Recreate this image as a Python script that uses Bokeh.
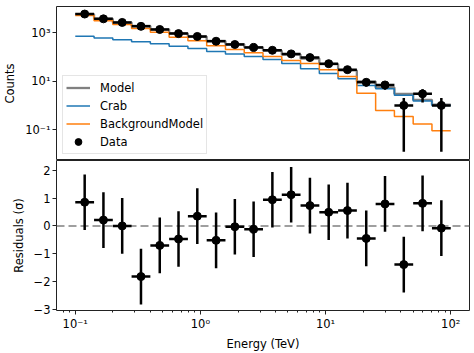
from bokeh.plotting import figure
from bokeh.models import Range1d, FixedTicker, Span, Legend, LegendItem
from bokeh.layouts import column
from bokeh.embed import file_html
from bokeh.resources import INLINE

# ---------------- data ----------------
energy_edges = [0.1, 0.1413, 0.1995, 0.2818, 0.3981, 0.5623, 0.7943, 1.122, 1.585,
                2.239, 3.162, 4.467, 6.310, 8.913, 12.59, 17.78, 25.12, 35.48,
                50.12, 70.79, 100.0]
energy_centers = [0.1189, 0.1679, 0.2371, 0.3350, 0.4732, 0.6683, 0.9441, 1.334,
                  1.884, 2.661, 3.758, 5.309, 7.499, 10.59, 14.96, 21.13, 29.85,
                  42.17, 59.57, 84.14]
counts = [6000, 3800, 2700, 1860, 1380, 930, 710, 450, 330, 250, 190, 135, 95,
          53, 30, 9, 7, 1, 3, 1]
counts_err_lo = [77, 62, 52, 43, 37, 30, 27, 21, 18, 16, 14, 11.6, 9.7, 7.3,
                 5.5, 3.0, 2.6, 0.988, 1.7, 0.988]
counts_err_hi = [77, 62, 52, 43, 37, 30, 27, 21, 18, 16, 14, 11.6, 9.7, 7.3,
                 5.5, 3.0, 2.6, 1.0, 1.7, 1.0]
model_counts = [5930, 3790, 2700, 1940, 1405, 945, 700, 462, 340, 255, 184, 126,
                87, 51, 28, 9.8, 5.5, 3.0, 1.7, 1.08]
crab_counts = [724, 617, 513, 427, 355, 282, 224, 170, 135, 105, 79, 54, 33, 21,
               12.6, 6.6, 4.9, 2.65, 1.53, 0.99]
background_counts = [5200, 3170, 2190, 1510, 1050, 660, 470, 292, 205, 150, 105,
                     72, 54, 30, 15.5, 3.2, 0.62, 0.35, 0.17, 0.09]
residuals = [0.85, 0.21, 0.0, -1.82, -0.70, -0.47, 0.35, -0.52, -0.03, -0.12,
             0.94, 1.12, 0.73, 0.49, 0.55, -0.45, 0.79, -1.39, 0.81, -0.08]
residuals_err = [1.0] * 20

y_counts_ticks = [0.1, 10, 1000]
y_counts_labels = {0.1: "10\u207b\u00b9", 10: "10\u00b9", 1000: "10\u00b3"}
x_ticks = [0.1, 1, 10, 100]
x_labels = {0.1: "10\u207b\u00b9", 1: "10\u2070", 10: "10\u00b9", 100: "10\u00b2"}
y_res_ticks = [-3, -2, -1, 0, 1, 2]
y_res_labels = {-3: "\u22123", -2: "\u22122", -1: "\u22121", 0: "0", 1: "1", 2: "2"}

FONT = "DejaVu Sans"
FS = "11.5px"
C_MODEL = "#808080"
C_CRAB = "#1f77b4"
C_BKG = "#ff7f0e"

x_range = Range1d(10 ** -1.15, 10 ** 2.15)


def style(p):
    p.outline_line_color = "#222222"
    p.outline_line_width = 1
    p.xgrid.grid_line_color = None
    p.ygrid.grid_line_color = None
    p.background_fill_color = "white"
    p.border_fill_color = "white"
    for ax in p.xaxis + p.yaxis:
        ax.axis_line_color = None
        ax.major_tick_line_color = "#222222"
        ax.minor_tick_line_color = "#222222"
        ax.major_tick_in = 0
        ax.major_tick_out = 4
        ax.minor_tick_in = 0
        ax.minor_tick_out = 2
        ax.major_label_text_font = FONT
        ax.major_label_text_font_size = FS
        ax.major_label_text_color = "black"
        ax.axis_label_text_font = FONT
        ax.axis_label_text_font_size = FS
        ax.axis_label_text_font_style = "normal"
        ax.axis_label_text_color = "black"
        ax.major_label_standoff = 2


# ---------------- top panel ----------------
top = figure(width=474, height=160, x_axis_type="log", y_axis_type="log",
             x_range=x_range, y_range=Range1d(10 ** -2.28, 10 ** 4.09),
             output_backend="svg", toolbar_location=None,
             min_border_left=55, min_border_right=5, min_border_top=6,
             min_border_bottom=0)
style(top)
top.xaxis.visible = False
top.yaxis.ticker = FixedTicker(ticks=y_counts_ticks, minor_ticks=[])
top.yaxis.major_label_overrides = y_counts_labels
top.yaxis.axis_label = "Counts"
top.yaxis.axis_label_standoff = 5

r_model = top.step(x=energy_edges, y=model_counts + [model_counts[-1]], mode="after",
                   line_color=C_MODEL, line_width=2.3)
r_crab = top.step(x=energy_edges, y=crab_counts + [crab_counts[-1]], mode="after",
                  line_color=C_CRAB, line_width=1.5)
r_bkg = top.step(x=energy_edges, y=background_counts + [background_counts[-1]],
                 mode="after", line_color=C_BKG, line_width=1.5)

c_lo = [c - e for c, e in zip(counts, counts_err_lo)]
c_hi = [c + e for c, e in zip(counts, counts_err_hi)]
r_vs = top.segment(x0=energy_centers, y0=c_lo, x1=energy_centers, y1=c_hi,
                   line_color="black", line_width=2.5)
r_hs = top.segment(x0=energy_edges[:-1], y0=counts, x1=energy_edges[1:], y1=counts,
                   line_color="black", line_width=2.5)
r_pt = top.scatter(x=energy_centers, y=counts, marker="circle", size=8,
                   fill_color="black", line_color="black")

legend = Legend(items=[
    LegendItem(label="Model", renderers=[r_model]),
    LegendItem(label="Crab", renderers=[r_crab]),
    LegendItem(label="BackgroundModel", renderers=[r_bkg]),
    LegendItem(label="Data", renderers=[r_pt]),
], location="bottom_left")
legend.margin = 6
legend.padding = 3
legend.spacing = 1
legend.glyph_width = 24
legend.glyph_height = 17
legend.label_height = 17
legend.label_standoff = 10
legend.label_text_font = FONT
legend.label_text_font_size = FS
legend.label_text_color = "black"
legend.border_line_color = "#cccccc"
legend.border_line_width = 1
legend.background_fill_color = "white"
legend.background_fill_alpha = 0.8
top.add_layout(legend)

# ---------------- bottom panel ----------------
bot = figure(width=474, height=193, x_axis_type="log",
             x_range=x_range, y_range=Range1d(-3.04, 2.35),
             output_backend="svg", toolbar_location=None,
             min_border_left=55, min_border_right=5, min_border_top=0,
             min_border_bottom=40)
style(bot)
minor_x = [m * 10.0 ** k for k in range(-2, 2) for m in range(2, 10)]
bot.xaxis.ticker = FixedTicker(ticks=x_ticks, minor_ticks=minor_x)
bot.xaxis.major_label_overrides = x_labels
bot.xaxis.axis_label = "Energy (TeV)"
bot.xaxis.axis_label_standoff = 3
bot.yaxis.ticker = FixedTicker(ticks=y_res_ticks, minor_ticks=[])
bot.yaxis.major_label_overrides = y_res_labels
bot.yaxis.axis_label = "Residuals (\u03c3)"
bot.yaxis.axis_label_standoff = 5

zero = Span(location=0, dimension="width", line_color="#808080", line_width=1.5,
            line_dash="8 4", level="underlay")
bot.add_layout(zero)

r_lo = [r - e for r, e in zip(residuals, residuals_err)]
r_hi = [r + e for r, e in zip(residuals, residuals_err)]
bot.segment(x0=energy_centers, y0=r_lo, x1=energy_centers, y1=r_hi,
            line_color="black", line_width=2.5)
bot.segment(x0=energy_edges[:-1], y0=residuals, x1=energy_edges[1:], y1=residuals,
            line_color="black", line_width=2.5)
bot.scatter(x=energy_centers, y=residuals, marker="circle", size=8,
            fill_color="black", line_color="black")

layout = column(top, bot, spacing=0)
open("out.html", "w").write(file_html(layout, INLINE))
